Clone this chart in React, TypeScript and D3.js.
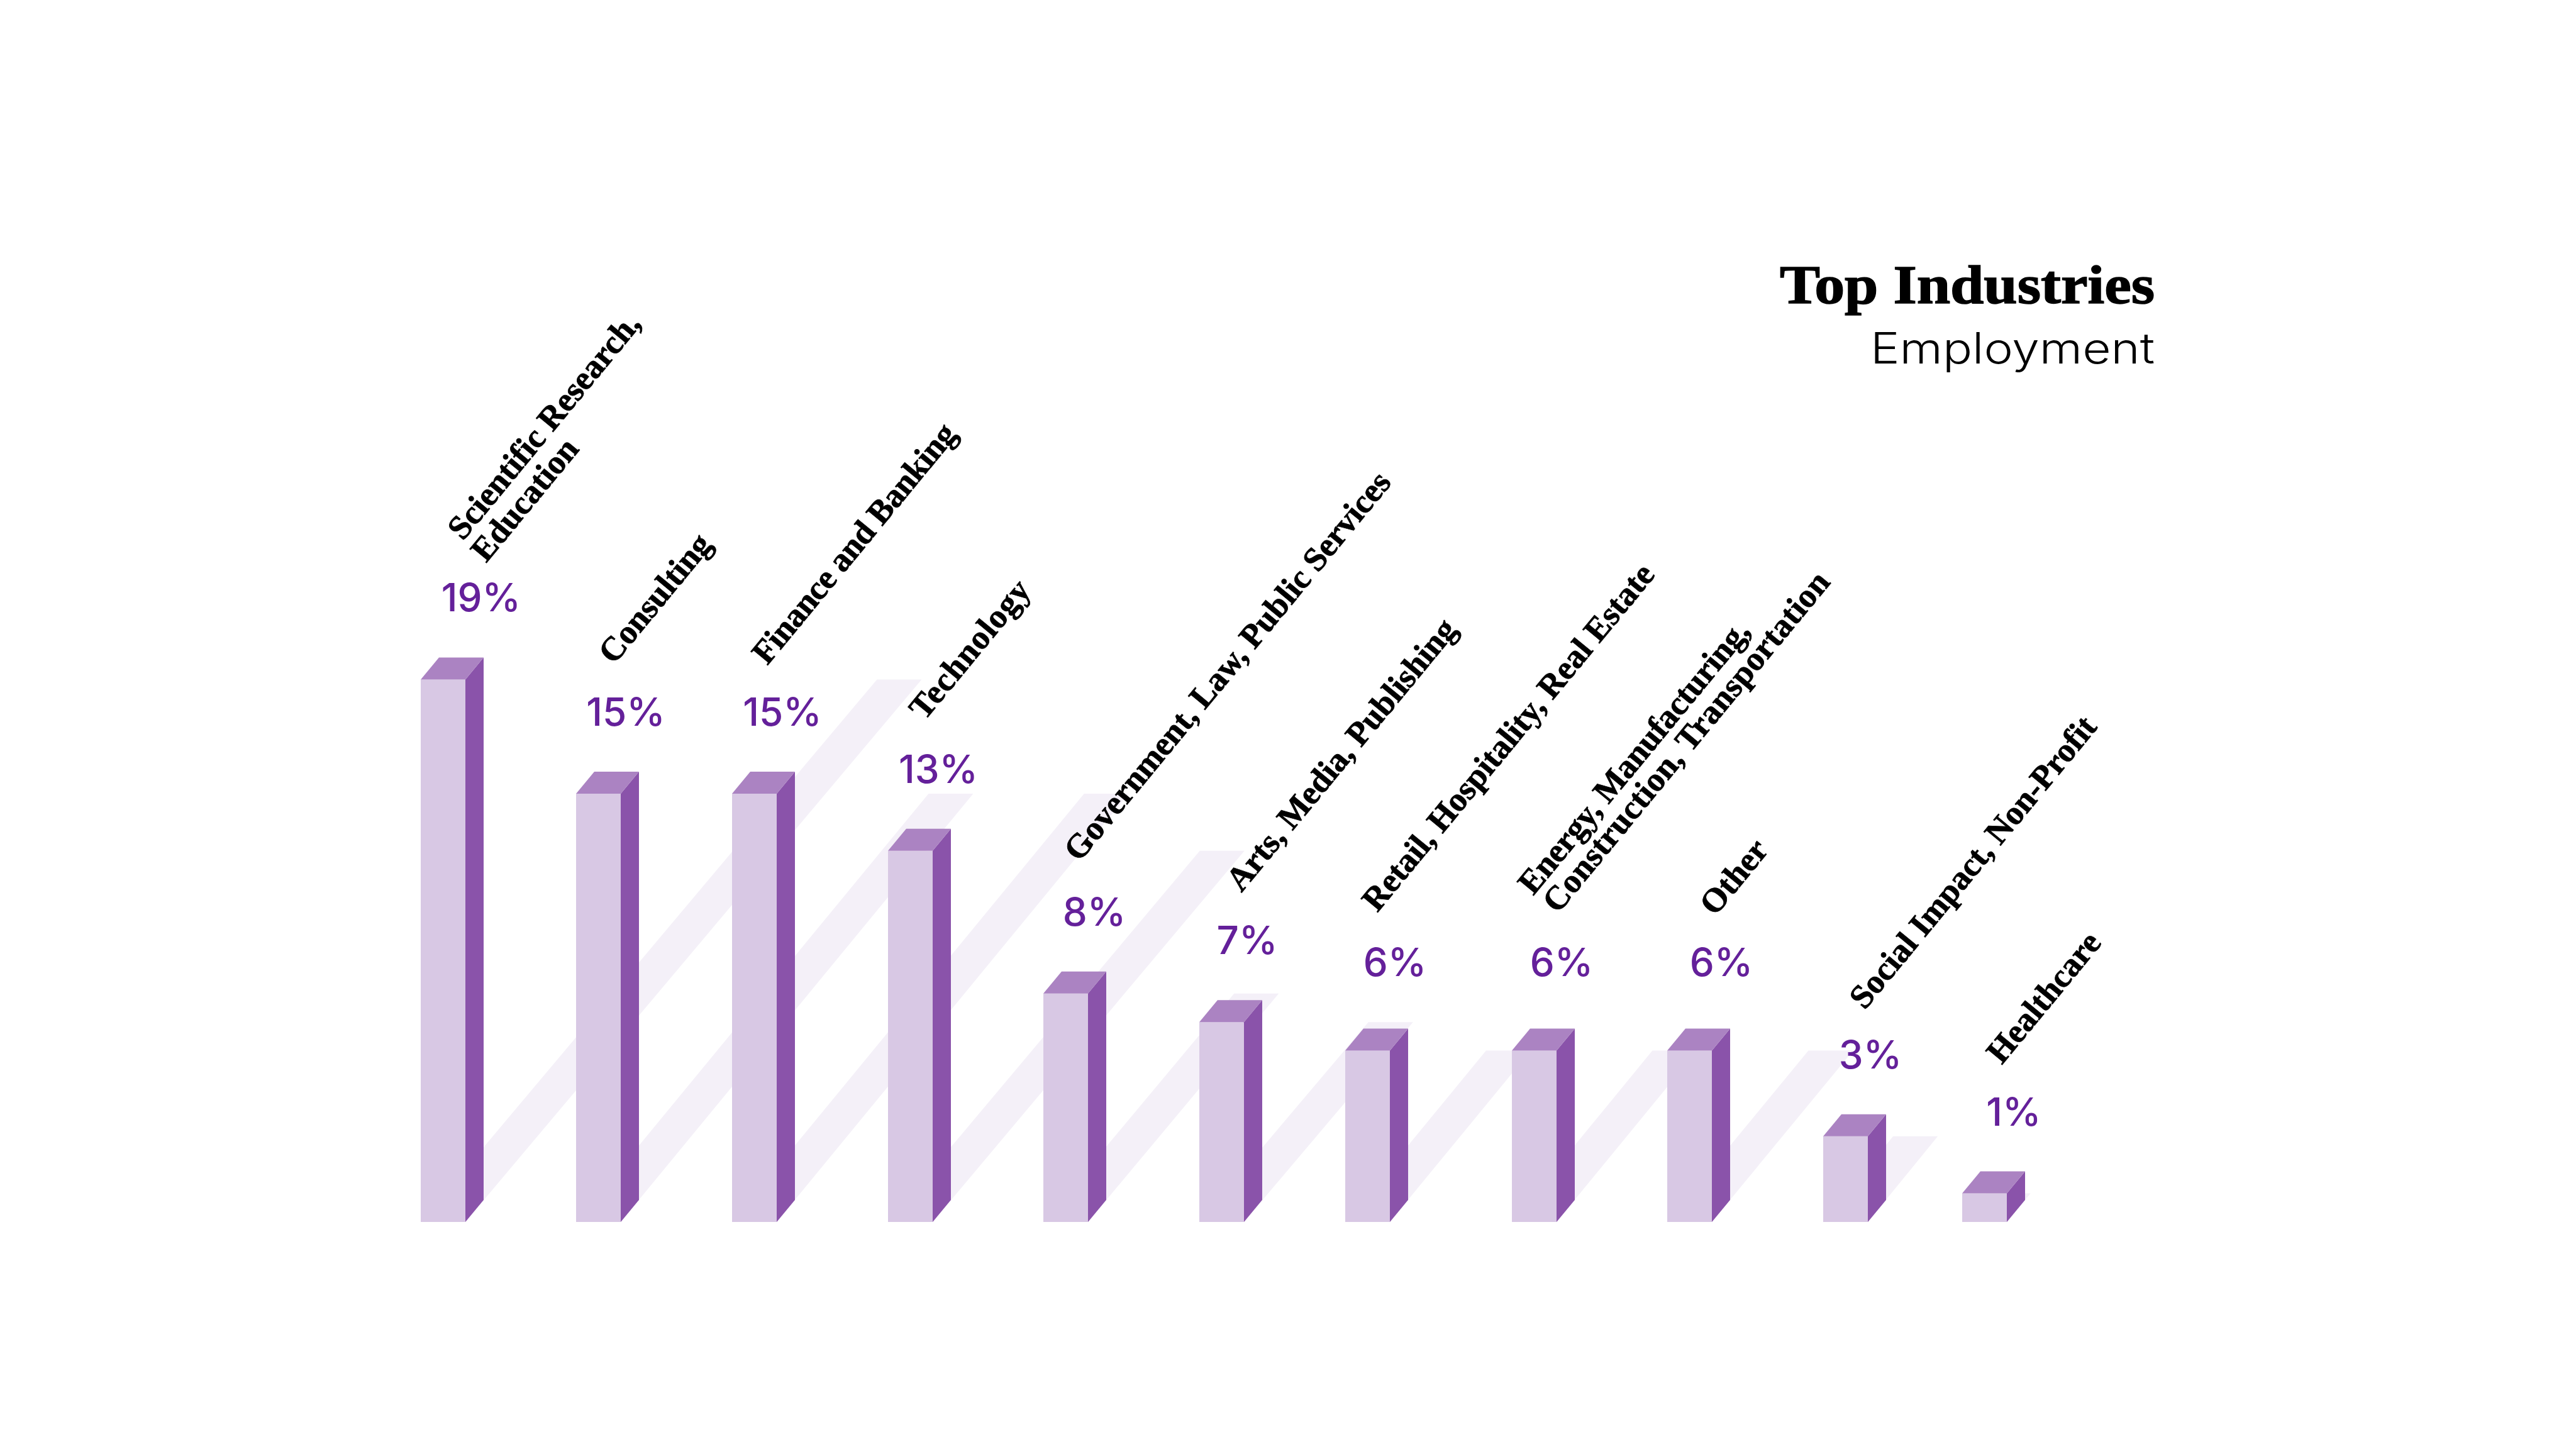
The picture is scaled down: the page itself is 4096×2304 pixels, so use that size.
import React from "react";
import * as d3 from "d3";

const categories = [
  ["Scientific Research,", "Education"],
  ["Consulting"],
  ["Finance and Banking"],
  ["Technology"],
  ["Government, Law, Public Services"],
  ["Arts, Media, Publishing"],
  ["Retail, Hospitality, Real Estate"],
  ["Energy, Manufacturing,", "Construction, Transportation"],
  ["Other"],
  ["Social Impact, Non-Profit"],
  ["Healthcare"],
];
const values = [19, 15, 15, 13, 8, 7, 6, 6, 6, 3, 1];
const title = "Top Industries";
const subtitle = "Employment";

// layout, separate from the data
const barLefts = [669, 916, 1164, 1412, 1659, 1907, 2139, 2404, 2651, 2899, 3120];
const valueCenters = [765, 995, 1244, 1492, 1740, 1983, 2218, 2483, 2737, 2974, 3202];
const shadowSlopes = [0.841, 0.823, 0.822, 0.84, 0.835, 0.846, 0.822, 0.82, 0.824, 0.816, 0.83];
const labelStarts = [
  [[736, 861], [773, 896]],
  [[976, 1058]],
  [[1220, 1059]],
  [[1470, 1147]],
  [[1716, 1372]],
  [[1974, 1420]],
  [[2190, 1452]],
  [[2438, 1425], [2477, 1454]],
  [[2727, 1458]],
  [[2965, 1607]],
  [[3183, 1694]],
];
const labelSpacing = [
  [0, 0],
  [-0.2],
  [-0.6],
  [1.0],
  [-0.1],
  [-0.1],
  [-0.1],
  [-0.3, 0.4],
  [0],
  [-0.1],
  [0],
];
const BAR_W = 71, DEPTH_X = 29, DEPTH_Y = 35;
const BASE_Y = 1943, PX_PER_PCT = 45.4;
const ANGLE = -50.5;

const colors = {
  shadow: "#f4f0f8",
  front: "#d8c8e4",
  side: "#8a53aa",
  top: "#ab83c2",
  value: "#64209a",
};
const serif = "'Liberation Serif', serif";
const sans = "Inter, 'Open Sans', sans-serif";

const y = d3.scaleLinear().domain([0, 1]).range([BASE_Y, BASE_Y - PX_PER_PCT]);
const x = d3.scaleOrdinal<number, number>().domain(d3.range(values.length)).range(barLefts);
const poly = d3.line();

export default function App() {
  const idx = d3.range(values.length);
  return (
    <svg
      width={4096}
      height={2304}
      viewBox="0 0 4096 2304"
      style={{ position: "absolute", left: 0, top: 0, display: "block", background: "#fff" }}
    >
      <g>
        {idx.map((i) => {
          const l = x(i), t = y(values[i]), s = (BASE_Y - t) * shadowSlopes[i];
          return (
            <path
              key={i}
              fill={colors.shadow}
              d={poly([[l, BASE_Y], [l + BAR_W, BASE_Y], [l + BAR_W + s, t], [l + s, t]]) + "Z"}
            />
          );
        })}
      </g>
      <g>
        {idx.map((i) => {
          const l = x(i), r = l + BAR_W, t = y(values[i]);
          return (
            <g key={i}>
              <path fill={colors.front} d={poly([[l, t], [r, t], [r, BASE_Y], [l, BASE_Y]]) + "Z"} />
              <path
                fill={colors.side}
                d={poly([[r, t], [r + DEPTH_X, t - DEPTH_Y], [r + DEPTH_X, BASE_Y - DEPTH_Y], [r, BASE_Y]]) + "Z"}
              />
              <path
                fill={colors.top}
                d={poly([[l, t], [r, t], [r + DEPTH_X, t - DEPTH_Y], [l + DEPTH_X, t - DEPTH_Y]]) + "Z"}
              />
            </g>
          );
        })}
      </g>
      <g fontFamily={sans} fontWeight={500} fontSize={62} fill={colors.value} textAnchor="middle">
        {idx.map((i) => (
          <text key={i} x={valueCenters[i]} y={values[i] === 6 ? y(6) - 119 : y(values[i]) - 108}>
            {values[i]}%
          </text>
        ))}
      </g>
      <g fontFamily={serif} fontWeight={700} fontSize={53.5} fill="#000" stroke="#000" strokeWidth={0.8}>
        {categories.map((lines, i) =>
          lines.map((line, j) => (
            <text
              key={j}
              letterSpacing={labelSpacing[i][j]}
              transform={`translate(${labelStarts[i][j][0]},${labelStarts[i][j][1]}) rotate(${ANGLE})`}
            >
              {line}
            </text>
          ))
        )}
      </g>
      <text
        x={2830}
        y={482}
        textLength={596}
        lengthAdjust="spacingAndGlyphs"
        fontFamily={serif}
        fontWeight={700}
        fontSize={86}
        fill="#000"
        stroke="#000"
        strokeWidth={1.5}
      >
        {title}
      </text>
      <text
        x={2974}
        y={578}
        textLength={452}
        lengthAdjust="spacingAndGlyphs"
        fontFamily={sans}
        fontWeight={300}
        fontSize={68}
        fill="#000"
      >
        {subtitle}
      </text>
    </svg>
  );
}
